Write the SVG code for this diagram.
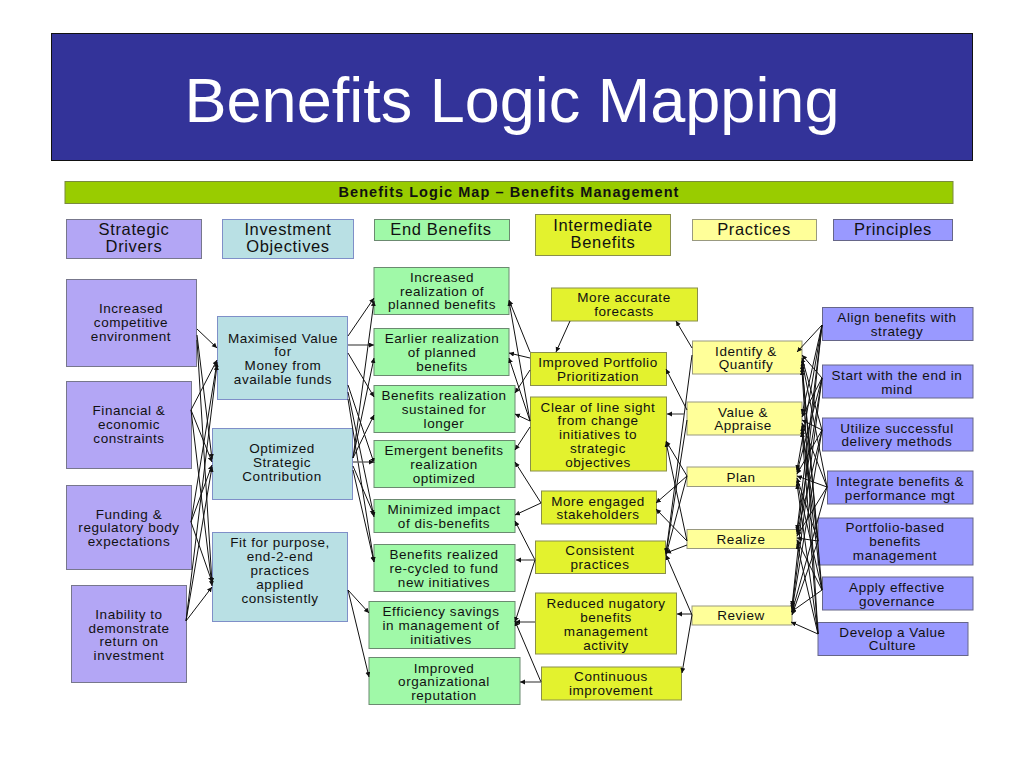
<svg xmlns="http://www.w3.org/2000/svg" width="1024" height="768" viewBox="0 0 1024 768">
<style>
text{font-family:"Liberation Sans",Arial,sans-serif;font-size:13.5px;letter-spacing:.55px;fill:#111;text-anchor:middle;transform:translateY(-.4px)}
.h text{font-size:16.500px;letter-spacing:.65px}
rect{stroke-width:1}
.dr{fill:#b3a6f5;stroke:#77778c}
.ob{fill:#b9e0e4;stroke:#7f8fc8}
.en{fill:#a0f9a8;stroke:#6b8a70}
.im{fill:#e3f22e;stroke:#8a8f4a}
.pr{fill:#ffff99;stroke:#999980}
.pi{fill:#9999ff;stroke:#666688}
#conn line{stroke:#111;stroke-width:1;marker-end:url(#a)}
#conn line.g{stroke:#666;stroke-width:1.4}
</style>
<defs><marker id="a" markerUnits="userSpaceOnUse" markerWidth="6" markerHeight="6" refX="5" refY="2.500" orient="auto"><path d="M0 0L5 2.500L0 5Z" fill="#111"/></marker></defs>
<rect width="1024" height="768" fill="#fff"/>
<g id="title"><rect x="51.500" y="33.500" width="921" height="127" fill="#333399" stroke="#111"/><text x="512" y="122" style="font-size:63px;letter-spacing:0;fill:#fff">Benefits Logic Mapping</text></g>
<g id="banner"><rect x="65" y="181.500" width="888" height="22" fill="#99cc00" stroke="#7a8a40"/><text x="509" y="197.500" style="font-weight:bold;font-size:14.500px;letter-spacing:1.05px">Benefits Logic Map – Benefits Management</text></g>
<g class="h">
<g id="h-drivers"><rect class="dr" x="66.500" y="219.500" width="135" height="39"/><text x="134" y="235.500">Strategic</text><text x="134" y="252.500">Drivers</text></g>
<g id="h-objectives"><rect class="ob" x="222.500" y="219.500" width="131" height="39"/><text x="288" y="235.500">Investment</text><text x="288" y="252.500">Objectives</text></g>
<g id="h-end"><rect class="en" x="374.500" y="219.500" width="135" height="21"/><text x="441" y="235.500">End Benefits</text></g>
<g id="h-intermediate"><rect class="im" x="535.500" y="214.500" width="135" height="41"/><text x="603" y="231">Intermediate</text><text x="603" y="248.500">Benefits</text></g>
<g id="h-practices"><rect class="pr" x="692.500" y="219.500" width="124" height="21"/><text x="754" y="235.500">Practices</text></g>
<g id="h-principles"><rect class="pi" x="833.500" y="219.500" width="119" height="21"/><text x="893" y="235.500">Principles</text></g>
</g>
<g id="d1"><rect class="dr" x="66.500" y="279.500" width="130" height="87"/><text x="131" y="313">Increased</text><text x="131" y="327">competitive</text><text x="131" y="341">environment</text></g>
<g id="d2"><rect class="dr" x="66.500" y="381.500" width="125" height="87"/><text x="129" y="415">Financial &amp;</text><text x="129" y="429">economic</text><text x="129" y="443">constraints</text></g>
<g id="d3"><rect class="dr" x="66.500" y="485.500" width="125" height="84"/><text x="129" y="519">Funding &amp;</text><text x="129" y="532.500">regulatory body</text><text x="129" y="546">expectations</text></g>
<g id="d4"><rect class="dr" x="71.500" y="585.500" width="115" height="97"/><text x="129" y="619">Inability to</text><text x="129" y="633">demonstrate</text><text x="129" y="646.500">return on</text><text x="129" y="660">investment</text></g>
<g id="o1"><rect class="ob" x="217.500" y="316.500" width="130" height="83"/><text x="283" y="343">Maximised Value</text><text x="283" y="356.500">for</text><text x="283" y="370.500">Money from</text><text x="283" y="384">available funds</text></g>
<g id="o2"><rect class="ob" x="212.500" y="428.500" width="140" height="71"/><text x="282" y="453.500">Optimized</text><text x="282" y="467">Strategic</text><text x="282" y="481">Contribution</text></g>
<g id="o3"><rect class="ob" x="212.500" y="532.500" width="135" height="89"/><text x="280" y="547">Fit for purpose,</text><text x="280" y="561">end-2-end</text><text x="280" y="575">practices</text><text x="280" y="589">applied</text><text x="280" y="603">consistently</text></g>
<g id="e1"><rect class="en" x="374" y="267.500" width="135" height="47"/><text x="442" y="282">Increased</text><text x="442" y="296">realization of</text><text x="442" y="309.500">planned benefits</text></g>
<g id="e2"><rect class="en" x="374" y="328.500" width="135" height="47"/><text x="442" y="343">Earlier realization</text><text x="442" y="357">of planned</text><text x="442" y="371">benefits</text></g>
<g id="e3"><rect class="en" x="374" y="385.500" width="141" height="47"/><text x="444" y="400.500">Benefits realization</text><text x="444" y="414">sustained for</text><text x="444" y="428">longer</text></g>
<g id="e4"><rect class="en" x="374" y="440.500" width="141" height="47"/><text x="444" y="455">Emergent benefits</text><text x="444" y="469">realization</text><text x="444" y="483">optimized</text></g>
<g id="e5"><rect class="en" x="374" y="499.500" width="141" height="33"/><text x="444" y="514.500">Minimized impact</text><text x="444" y="528">of dis-benefits</text></g>
<g id="e6"><rect class="en" x="374" y="544.500" width="141" height="47"/><text x="444" y="559">Benefits realized</text><text x="444" y="573">re-cycled to fund</text><text x="444" y="587">new initiatives</text></g>
<g id="e7"><rect class="en" x="369" y="601.500" width="146" height="47"/><text x="441" y="616">Efficiency savings</text><text x="441" y="630">in management of</text><text x="441" y="644">initiatives</text></g>
<g id="e8"><rect class="en" x="369" y="657.500" width="151" height="47"/><text x="444" y="673">Improved</text><text x="444" y="686.500">organizational</text><text x="444" y="700">reputation</text></g>
<g id="i1"><rect class="im" x="551.500" y="288" width="146" height="33"/><text x="624" y="302">More accurate</text><text x="624" y="316">forecasts</text></g>
<g id="i2"><rect class="im" x="530.500" y="352.500" width="136" height="33"/><text x="598" y="367">Improved Portfolio</text><text x="598" y="381">Prioritization</text></g>
<g id="i3"><rect class="im" x="530.500" y="397" width="136" height="74"/><text x="598" y="412">Clear of line sight</text><text x="598" y="425.500">from change</text><text x="598" y="439.500">initiatives to</text><text x="598" y="453">strategic</text><text x="598" y="467">objectives</text></g>
<g id="i4"><rect class="im" x="541.500" y="491" width="115" height="33"/><text x="598" y="506">More engaged</text><text x="598" y="519.500">stakeholders</text></g>
<g id="i5"><rect class="im" x="535.500" y="541" width="130" height="32.500"/><text x="600" y="555.500">Consistent</text><text x="600" y="569">practices</text></g>
<g id="i6"><rect class="im" x="535.500" y="593" width="141" height="61"/><text x="606" y="608">Reduced nugatory</text><text x="606" y="622">benefits</text><text x="606" y="636">management</text><text x="606" y="650">activity</text></g>
<g id="i7"><rect class="im" x="541.500" y="667" width="140" height="33"/><text x="611" y="681.500">Continuous</text><text x="611" y="695">improvement</text></g>
<g id="p1"><rect class="pr" x="692.500" y="341" width="109.500" height="33"/><text x="746" y="356">Identify &amp;</text><text x="746" y="369.500">Quantify</text></g>
<g id="p2"><rect class="pr" x="687" y="402" width="115" height="33"/><text x="743" y="417">Value &amp;</text><text x="743" y="430.500">Appraise</text></g>
<g id="p3"><rect class="pr" x="687" y="467" width="110" height="19.500"/><text x="741" y="482">Plan</text></g>
<g id="p4"><rect class="pr" x="687" y="529.500" width="110" height="19"/><text x="741" y="544">Realize</text></g>
<g id="p5"><rect class="pr" x="692" y="606" width="100" height="19"/><text x="741" y="620">Review</text></g>
<g id="q1"><rect class="pi" x="822.500" y="307.500" width="150.500" height="33"/><text x="897" y="322">Align benefits with</text><text x="897" y="336">strategy</text></g>
<g id="q2"><rect class="pi" x="822.500" y="365" width="150.500" height="33"/><text x="897" y="380">Start with the end in</text><text x="897" y="394">mind</text></g>
<g id="q3"><rect class="pi" x="822.500" y="418" width="150.500" height="33"/><text x="897" y="433">Utilize successful</text><text x="897" y="446.500">delivery methods</text></g>
<g id="q4"><rect class="pi" x="827.500" y="471" width="145.500" height="33"/><text x="900" y="486">Integrate benefits &amp;</text><text x="900" y="500">performance mgt</text></g>
<g id="q5"><rect class="pi" x="818" y="518" width="155" height="47"/><text x="895" y="532.500">Portfolio-based</text><text x="895" y="546.500">benefits</text><text x="895" y="560.500">management</text></g>
<g id="q6"><rect class="pi" x="822.500" y="577" width="150.500" height="33"/><text x="897" y="592">Apply effective</text><text x="897" y="606">governance</text></g>
<g id="q7"><rect class="pi" x="818" y="622.500" width="150" height="33"/><text x="892.500" y="637">Develop a Value</text><text x="892.500" y="650.500">Culture</text></g>
<g id="conn">
<line x1="197" y1="329" x2="217" y2="348"/><line x1="197" y1="335" x2="212" y2="459"/><line x1="197" y1="340" x2="212" y2="583"/>
<line x1="191" y1="410" x2="217" y2="360"/><line x1="191" y1="410" x2="212" y2="462"/><line x1="191" y1="410" x2="212" y2="586"/>
<line x1="191" y1="522" x2="217" y2="362"/><line x1="191" y1="522" x2="212" y2="465"/><line x1="191" y1="522" x2="212" y2="582"/>
<line x1="186" y1="621" x2="217" y2="365"/><line x1="186" y1="621" x2="212" y2="467"/><line x1="186" y1="621" x2="212" y2="587"/>
<line x1="348" y1="336" x2="374" y2="298"/><line class="g" x1="348" y1="345" x2="374" y2="345"/><line x1="348" y1="353" x2="374" y2="397"/><line x1="348" y1="385" x2="374" y2="463"/><line x1="348" y1="392" x2="374" y2="517"/><line x1="348" y1="399" x2="374" y2="562"/>
<line x1="353" y1="458" x2="374" y2="301"/><line x1="353" y1="458" x2="374" y2="358"/><line x1="353" y1="458" x2="374" y2="415"/><line class="g" x1="353" y1="462" x2="374" y2="462"/><line x1="353" y1="466" x2="374" y2="515"/><line x1="353" y1="470" x2="374" y2="562"/>
<line x1="348" y1="590" x2="369" y2="613"/><line x1="348" y1="590" x2="369" y2="677"/>
<line x1="570" y1="321" x2="556" y2="352"/>
<line x1="530" y1="352" x2="509" y2="300"/><line x1="530" y1="358" x2="509" y2="353"/><line x1="530" y1="370" x2="515" y2="393"/>
<line x1="530" y1="421" x2="509" y2="301"/><line x1="530" y1="421" x2="509" y2="358"/><line x1="530" y1="421" x2="515" y2="414"/><line x1="530" y1="427" x2="515" y2="450"/>
<line x1="541" y1="503" x2="515" y2="462"/><line x1="541" y1="503" x2="515" y2="515"/>
<line x1="535" y1="560" x2="515" y2="521"/><line class="g" x1="535" y1="560" x2="516" y2="560"/><line x1="535" y1="560" x2="515" y2="622"/>
<line class="g" x1="535" y1="622" x2="515" y2="622"/><line x1="541" y1="682" x2="515" y2="621"/><line class="g" x1="541" y1="682" x2="520" y2="682"/>
<line x1="692" y1="348" x2="676" y2="321"/><line x1="692" y1="355" x2="666" y2="553"/>
<line x1="687" y1="410" x2="666" y2="369"/><line class="g" x1="684" y1="414" x2="667" y2="414"/><line x1="687" y1="420" x2="666" y2="554"/>
<line x1="687" y1="476" x2="666" y2="441"/><line x1="687" y1="476" x2="656" y2="503"/><line x1="687" y1="476" x2="666" y2="555"/>
<line x1="687" y1="541" x2="666" y2="442"/><line x1="687" y1="541" x2="656" y2="509"/><line x1="687" y1="545" x2="666" y2="553"/>
<line x1="692" y1="615" x2="666" y2="555"/><line x1="692" y1="614" x2="677" y2="614"/><line x1="692" y1="615" x2="682" y2="673"/>
<line x1="822" y1="325" x2="797" y2="352"/><line x1="822" y1="325" x2="802" y2="414"/><line x1="822" y1="325" x2="797" y2="470"/><line x1="822" y1="325" x2="797" y2="530"/><line x1="822" y1="325" x2="792" y2="606"/>
<line x1="822" y1="378" x2="802" y2="355"/><line x1="822" y1="378" x2="802" y2="417"/><line x1="822" y1="378" x2="797" y2="472"/><line x1="822" y1="378" x2="797" y2="532"/><line x1="822" y1="378" x2="792" y2="608"/>
<line x1="822" y1="430" x2="802" y2="358"/><line x1="822" y1="430" x2="802" y2="420"/><line x1="822" y1="430" x2="797" y2="474"/><line x1="822" y1="430" x2="797" y2="534"/><line x1="822" y1="430" x2="792" y2="610"/>
<line x1="827" y1="487" x2="802" y2="361"/><line x1="827" y1="487" x2="802" y2="423"/><line x1="827" y1="487" x2="797" y2="476"/><line x1="827" y1="487" x2="797" y2="536"/><line x1="827" y1="487" x2="792" y2="612"/>
<line x1="818" y1="541" x2="802" y2="364"/><line x1="818" y1="541" x2="802" y2="426"/><line x1="818" y1="541" x2="797" y2="478"/><line x1="818" y1="541" x2="797" y2="538"/><line x1="818" y1="541" x2="792" y2="615"/>
<line x1="822" y1="590" x2="802" y2="367"/><line x1="822" y1="590" x2="802" y2="429"/><line x1="822" y1="590" x2="797" y2="481"/><line x1="822" y1="590" x2="797" y2="540"/><line x1="822" y1="590" x2="791" y2="612"/>
<line x1="818" y1="634" x2="802" y2="370"/><line x1="818" y1="634" x2="802" y2="432"/><line x1="818" y1="634" x2="797" y2="484"/><line x1="818" y1="634" x2="797" y2="544"/><line x1="818" y1="634" x2="791" y2="622"/>
</g>
</svg>
